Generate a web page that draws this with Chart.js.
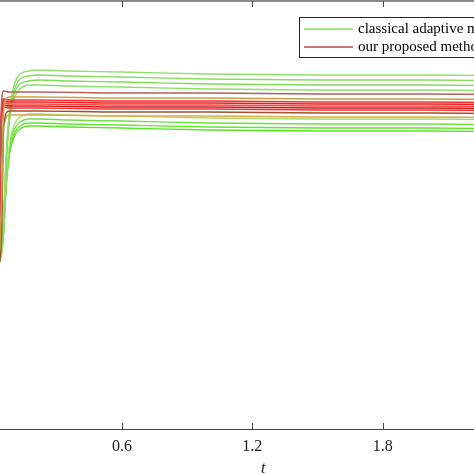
<!DOCTYPE html>
<html>
<head>
<meta charset="utf-8">
<script src="https://cdn.jsdelivr.net/npm/chart.js@4/dist/chart.umd.min.js"></script>
<style>
  html, body { margin: 0; padding: 0; background: #fff; overflow: hidden; width: 474px; height: 474px; }
  #wrap { position: absolute; left: -40px; top: 0; width: 620px; height: 474px; }
</style>
</head>
<body>
<div id="wrap"><canvas id="chart"></canvas></div>
<script>
// time samples
const T_GREEN = [0, 0.03, 0.045, 0.055, 0.065, 0.08, 0.095, 0.11, 0.13, 0.17, 0.22, 0.35, 0.6, 1.0, 1.5, 2.0, 2.5];
const T_RED = [0, 0.03, 0.045, 0.055, 0.08, 0.2, 0.6, 1.0, 1.5, 2.0, 2.5];

// classical adaptive method (green family)
const green1 = [1.61, 1.65, 1.81, 2.11, 2.66, 3.15, 3.37, 3.48, 3.55, 3.58, 3.59, 3.58, 3.57, 3.55, 3.54, 3.54, 3.53];
const green2 = [1.61, 1.65, 1.80, 2.09, 2.63, 3.12, 3.33, 3.43, 3.50, 3.53, 3.54, 3.53, 3.52, 3.50, 3.49, 3.49, 3.48];
const green3 = [1.61, 1.65, 1.80, 2.08, 2.61, 3.08, 3.28, 3.39, 3.45, 3.48, 3.49, 3.48, 3.47, 3.45, 3.44, 3.44, 3.43];
const green4 = [1.61, 1.65, 1.79, 2.07, 2.58, 3.04, 3.24, 3.34, 3.40, 3.44, 3.44, 3.43, 3.42, 3.40, 3.39, 3.39, 3.38];
const green5 = [1.61, 1.64, 1.76, 2.00, 2.43, 2.81, 2.98, 3.07, 3.12, 3.15, 3.15, 3.14, 3.13, 3.11, 3.10, 3.10, 3.09];
const green6 = [1.61, 1.64, 1.76, 1.98, 2.40, 2.77, 2.94, 3.02, 3.07, 3.10, 3.10, 3.09, 3.08, 3.06, 3.05, 3.05, 3.04];
const green7 = [1.61, 1.64, 1.75, 1.97, 2.38, 2.74, 2.90, 2.98, 3.03, 3.06, 3.06, 3.05, 3.04, 3.02, 3.01, 3.01, 3.00];
const green8 = [1.61, 1.64, 1.75, 1.97, 2.36, 2.72, 2.87, 2.95, 3.00, 3.03, 3.03, 3.02, 3.01, 2.99, 2.98, 2.98, 2.97];

// our proposed method (red family)
const red1 = [1.59, 1.67, 3.25, 3.38, 3.37, 3.37, 3.36, 3.36, 3.35, 3.35, 3.34];
const red2 = [1.59, 1.65, 2.29, 3.19, 3.32, 3.32, 3.31, 3.31, 3.30, 3.30, 3.29];
const red3 = [1.59, 1.67, 3.17, 3.30, 3.29, 3.29, 3.28, 3.28, 3.27, 3.27, 3.26];
const red4 = [1.59, 1.67, 3.15, 3.28, 3.27, 3.27, 3.26, 3.26, 3.25, 3.25, 3.24];
const red5 = [1.59, 1.67, 3.13, 3.26, 3.25, 3.25, 3.24, 3.24, 3.23, 3.23, 3.22];
const red6 = [1.59, 1.67, 3.11, 3.24, 3.23, 3.23, 3.22, 3.22, 3.21, 3.21, 3.20];
const red7 = [1.59, 1.67, 3.09, 3.22, 3.21, 3.21, 3.20, 3.20, 3.19, 3.19, 3.18];
const red8 = [1.59, 1.64, 1.89, 3.04, 3.18, 3.18, 3.17, 3.17, 3.16, 3.16, 3.15];
const red9 = [1.59, 1.65, 2.19, 3.01, 3.14, 3.14, 3.13, 3.13, 3.12, 3.12, 3.11];

const XTICKS = [0, 0.6, 1.2, 1.8, 2.4];
const LEGEND_LABELS = ["classical adaptive method", "our proposed method"];

const greens = [green1, green2, green3, green4, green5, green6, green7, green8];
const greenColors = ['#8ee06a', '#86de5c', '#7edc55', '#8ae066', '#a6dc6a', '#6fe040', '#5fe82c', '#55e622'];
const reds = [red1, red2, red3, red4, red5, red6, red7, red8, red9];
const redColors = ['#b85c5c', '#c8a040', '#ff2a2a', '#e82020', '#ff4444', '#d01818', '#f43030', '#a0522d', '#dcaa4c'];

function series(t, vals) {
    return vals.map((v, i) => ({ x: t[i], y: v }));
}

const datasets = [];
// red first so it is drawn on top
reds.forEach((r, i) => datasets.push({
    data: series(T_RED, r),
    borderColor: redColors[i],
    borderWidth: 1.5,
}));
greens.forEach((g, i) => datasets.push({
    data: series(T_GREEN, g),
    borderColor: greenColors[i],
    borderWidth: 1.4,
}));

// box legend + inward ticks and top frame line
const framePlugin = {
    id: 'frame',
    afterDraw(chart) {
        const ctx = chart.ctx;
        const a = chart.chartArea;
        const x = chart.scales.x;
        ctx.save();
        ctx.strokeStyle = '#666';
        ctx.lineWidth = 1.5;
        ctx.beginPath();
        ctx.moveTo(a.left, a.top);
        ctx.lineTo(a.right, a.top);
        ctx.stroke();
        ctx.strokeStyle = '#444';
        ctx.lineWidth = 1;
        XTICKS.forEach(v => {
            const px = Math.round(x.getPixelForValue(v)) + 0.5;
            ctx.beginPath();
            ctx.moveTo(px, a.bottom);
            ctx.lineTo(px, a.bottom - 6);
            ctx.moveTo(px, a.top);
            ctx.lineTo(px, a.top + 6);
            ctx.stroke();
        });

        // legend
        const bx = 339, by = 17, bw = 260, bh = 40;
        ctx.fillStyle = '#fff';
        ctx.fillRect(bx, by, bw, bh);
        ctx.strokeStyle = '#222';
        ctx.lineWidth = 1;
        ctx.strokeRect(bx + 0.5, by + 0.5, bw, bh);
        const rows = [[LEGEND_LABELS[0], '#8ad86a', 29], [LEGEND_LABELS[1], '#b04a4a', 47]];
        ctx.font = '15px "Liberation Serif"';
        ctx.textBaseline = 'middle';
        rows.forEach(([label, color, y]) => {
            ctx.strokeStyle = color;
            ctx.lineWidth = 1.5;
            ctx.beginPath();
            ctx.moveTo(bx + 5, y);
            ctx.lineTo(bx + 54, y);
            ctx.stroke();
            ctx.fillStyle = '#000';
            ctx.fillText(label, bx + 59, y);
        });
        ctx.restore();
    }
};

new Chart(document.getElementById('chart'), {
    type: 'line',
    data: { datasets: datasets },
    options: {
        responsive: true,
        maintainAspectRatio: false,
        animation: false,
        layout: { padding: { left: 31.7, right: 45.3, top: 1, bottom: 0 } },
        elements: {
            point: { radius: 0 },
            line: { cubicInterpolationMode: 'monotone' },
        },
        scales: {
            x: {
                type: 'linear',
                min: 0,
                max: 2.5,
                afterBuildTicks: s => { s.ticks = XTICKS.map(v => ({ value: v })); },
                afterFit: s => { s.height = 45; },
                ticks: {
                    padding: 8,
                    color: '#1a1a1a',
                    font: { family: 'Liberation Serif', size: 16 },
                    callback: v => String(v),
                },
                grid: { display: true, drawOnChartArea: false, drawTicks: false },
                border: { display: true, color: '#444', width: 1 },
                title: {
                    display: true,
                    text: 't',
                    color: '#1a1a1a',
                    font: { family: 'Liberation Serif', size: 16, style: 'italic' },
                    padding: { top: 0, bottom: -4 },
                },
            },
            y: {
                display: false,
                min: 0,
                max: 4.28,
            },
        },
        plugins: {
            legend: { display: false },
            tooltip: { enabled: false },
        },
    },
    plugins: [framePlugin],
});
</script>
</body>
</html>
